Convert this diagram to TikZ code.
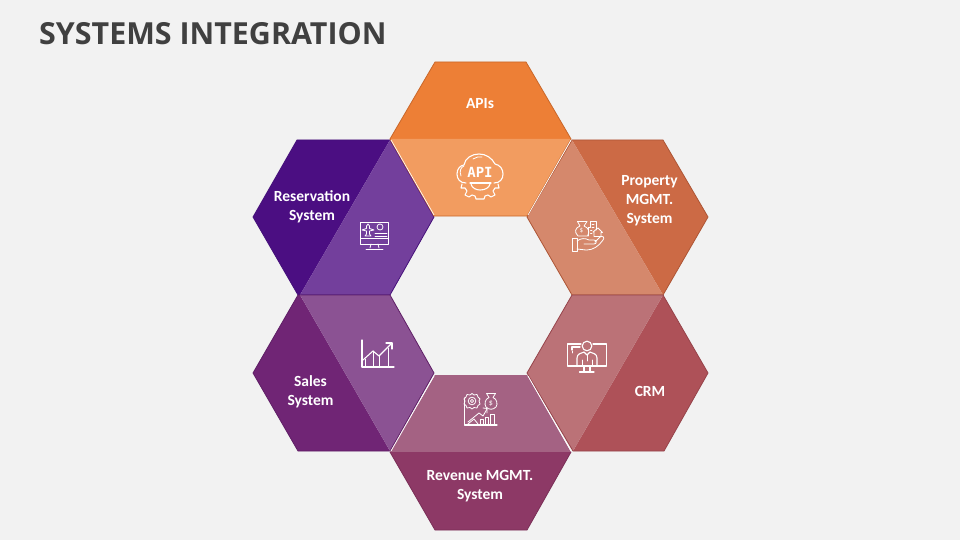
\documentclass[tikz,border=0pt]{standalone}
\usepackage{fontspec}
\setmainfont{Carlito}
\newfontfamily\titlefont{Open Sans}
\newfontfamily\apifont{DejaVu Sans Mono}
\definecolor{bgc}{HTML}{F2F2F2}
\definecolor{ttl}{HTML}{404040}
\definecolor{apid}{HTML}{ED7F36}
\definecolor{apil}{HTML}{F29C60}
\definecolor{apie}{HTML}{C9672A}
\definecolor{resd}{HTML}{4B0E82}
\definecolor{resl}{HTML}{733F9C}
\definecolor{rese}{HTML}{45107A}
\definecolor{prod}{HTML}{CC6A45}
\definecolor{prol}{HTML}{D5886C}
\definecolor{proe}{HTML}{AD5535}
\definecolor{sald}{HTML}{702575}
\definecolor{sall}{HTML}{8B5293}
\definecolor{sale}{HTML}{5F1F66}
\definecolor{crmd}{HTML}{AE5158}
\definecolor{crml}{HTML}{BB7277}
\definecolor{crme}{HTML}{96434A}
\definecolor{revd}{HTML}{8D3966}
\definecolor{revl}{HTML}{A46283}
\definecolor{reve}{HTML}{7A2F57}
\tikzset{
  x=1pt,y=-1pt,
  hexedge/.style={draw=#1,line width=0.8pt,line join=miter},
  gapline/.style={draw=white,line width=0.7pt},
  lbl/.style={text=white,font=\fontsize{15.5}{19}\selectfont\bfseries,align=center,inner sep=0pt},
  icon/.style={draw=white,line width=1.1pt,line join=round,line cap=round},
  iconthin/.style={draw=white,line width=0.8pt,line join=round,line cap=round},
}
\begin{document}
\begin{tikzpicture}
\useasboundingbox (0,0) rectangle (960,540);
\fill[bgc] (0,0) rectangle (960,540);
\node[anchor=west,inner sep=0pt,text=ttl,font=\titlefont\fontsize{30.4}{36}\selectfont\bfseries] (title) at (39,34) {SYSTEMS INTEGRATION};

% Reservation
\fill[resd] (297,140) -- (390,140) -- (300,295) -- (298,295) -- (253,217) -- cycle;
\fill[resl] (390,140) -- (434,217) -- (390,295) -- (300,295) -- cycle;
\draw[hexedge=rese] (297,140) -- (390,140) -- (434,217) -- (390,295) -- (298,295) -- (253,217) -- cycle;
% Property
\fill[prod] (572,140) -- (663,140) -- (708,217) -- (663,295) -- cycle;
\fill[prol] (572,140) -- (663,295) -- (572,295) -- (527,217) -- cycle;
\draw[hexedge=proe] (572,140) -- (663,140) -- (708,217) -- (663,295) -- (572,295) -- (527,217) -- cycle;
% Sales
\fill[sald] (298,295) -- (300,295) -- (390,451) -- (298,451) -- (253,373) -- cycle;
\fill[sall] (300,295) -- (390,295) -- (434,373) -- (390,451) -- cycle;
\draw[hexedge=sale] (298,295) -- (390,295) -- (434,373) -- (390,451) -- (298,451) -- (253,373) -- cycle;
% CRM
\fill[crmd] (663,295) -- (708,373) -- (664,451) -- (573,451) -- cycle;
\fill[crml] (572,295) -- (663,295) -- (573,451) -- (527,373) -- cycle;
\draw[hexedge=crme] (572,295) -- (663,295) -- (708,373) -- (664,451) -- (573,451) -- (527,373) -- cycle;
% APIs
\fill[apid] (435,62) -- (526,62) -- (571,139) -- (390,139) -- cycle;
\fill[apil] (390,139) -- (571,139) -- (527,216) -- (434,216) -- cycle;
\draw[hexedge=apie] (435,62) -- (526,62) -- (571,139) -- (527,216) -- (434,216) -- (390,139) -- cycle;
% Revenue
\fill[revl] (435,375) -- (527,375) -- (571,452) -- (390,452) -- cycle;
\fill[revd] (390,452) -- (571,452) -- (527,530) -- (435,530) -- cycle;
\draw[hexedge=reve] (390,452) -- (435,530) -- (527,530) -- (571,452);
% sliver highlights where the hexagons touch
\draw[gapline] (391,140) -- (434,215);
\draw[gapline] (571,140) -- (528,215);
\draw[gapline] (391,451) -- (434,376);
\draw[gapline] (571,451) -- (528,376);

% labels
\node[lbl] (lapi) at (480,104) {APIs};
\node[lbl] (lres) at (312,207) {Reservation\\System};
\node[lbl] (lpro) at (649.5,201) {Property\\MGMT.\\System};
\node[lbl] (lsal) at (310.5,392) {Sales\\System};
\node[lbl] (lcrm) at (650,391) {CRM};
\node[lbl] (lrev) at (480,486.5) {Revenue MGMT.\\System};

% icon: API cloud and gear
\draw[icon] (466,183) .. controls (460,183) and (457,179) .. (457,174) .. controls (457,169) and (460,165.5) .. (464,165) .. controls (465,158) and (472,154) .. (479,154) .. controls (486,154) and (492,158) .. (495,164) .. controls (500,165) and (503,169) .. (503,174) .. controls (503,179) and (500,183) .. (494,183);
\draw[iconthin] (461,176) .. controls (459,171) and (461,167) .. (464,166);
\draw[iconthin] (473,159) .. controls (476,157) and (479,156.5) .. (482,157);
\draw[icon] (470,183) -- (491,183);
\draw[icon] (471,184) .. controls (472,188) and (476,190) .. (480,190) .. controls (485,190) and (489,188) .. (490,184);
\draw[icon] (462,184) -- (461,188) -- (465,188) -- (467,191) -- (465,195) -- (469,197) -- (472,195) -- (475,196) -- (476,199) -- (484,199) -- (485,196) -- (488,195) -- (491,197) -- (495,195) -- (493,191) -- (495,188) -- (499,188) -- (498,184);
\node[inner sep=0pt,text=white,font=\apifont\bfseries\fontsize{14}{14}\selectfont] (apitxt) at (480,172.5) {API};

% icon: reservation monitor
\draw[iconthin] (360.5,222) rectangle (388,244);
\draw[iconthin] (360.5,238) -- (388,238);
\draw[iconthin] (371,244) -- (370,248) (378,244) -- (379,248);
\draw[iconthin] (366,249) -- (383,249);
\draw[iconthin] (368,224) -- (369.5,226) -- (369.5,228.5) -- (374,230) -- (369.5,231) -- (369.5,234) -- (371,236) -- (365,236) -- (366.5,234) -- (366.5,231) -- (362,230) -- (366.5,228.5) -- (366.5,226) -- cycle;
\draw[iconthin] (380,227) circle (3);
\draw[iconthin] (375,233) -- (387,233) (375,236) -- (387,236);

% icon: property hand
\draw[iconthin] (572.5,238.5) rectangle (577,251.5);
\draw[iconthin] (577,241) .. controls (581,238) and (585,238) .. (589,240) -- (594,240) .. controls (597,240) and (597,244) .. (594,244) -- (584,244);
\draw[iconthin] (595,242) -- (600,237) .. controls (603,235) and (605,238) .. (603,240) .. controls (599,246) and (593,250) .. (587,250) .. controls (583,250) and (580,249) .. (577,249);
\draw[iconthin] (577.5,221.5) -- (587,221.5) -- (584,226) .. controls (589,228) and (590,232) .. (587.5,236) -- (578,236) .. controls (574,232) and (575,228) .. (580,226) -- cycle;
\draw[iconthin] (588,236) -- (588,227) -- (590,227) -- (590,221) -- (596,221) -- (596,230);
\draw[iconthin] (592,224) -- (594,224) (592,227) -- (594,227) (590.5,230) -- (592,230) (590.5,233) -- (592,233);
\draw[iconthin] (593,232) -- (598,228) -- (602.5,232.5) -- (601,232.5) -- (601,236.5) -- (594,236.5) -- (594,232);
\node[inner sep=0pt,text=white,font=\fontsize{7}{7}\selectfont] (bagd) at (581.5,231) {\$};

% icon: sales chart
\draw[icon] (362,340) -- (362,367) -- (394,367);
\draw[icon] (363,360) -- (373,351) -- (379,356) -- (392,343);
\draw[icon] (386,343) -- (392,343) -- (392,349);
\draw[iconthin] (365,359) -- (365,367) (373,351) -- (373,367) (379,356) -- (379,367) (388,348) -- (388,367);

% icon: CRM screen with person
\draw[icon] (581,344) -- (567.5,344) -- (567.5,366) -- (606.5,366) -- (606.5,344) -- (593,344);
\draw[icon] (572,350) -- (572,347) -- (580,347);
\draw[iconthin] (572,353) -- (572,351);
\draw[icon] (587,346) circle (4.8);
\draw[icon] (577,366) -- (577,358) .. controls (577,354) and (581,353) .. (584,352) -- (587,355) -- (590,352) .. controls (593,353) and (597,354) .. (597,358) -- (597,366);
\draw[iconthin] (587,355) -- (587,361);
\draw[iconthin] (582,360) -- (582,366) (592,360) -- (592,366);
\draw[icon] (584,366) -- (584,372) (590,366) -- (590,372);
\draw[icon] (579.5,372) -- (594,372);

% icon: revenue
\draw[icon] (464.5,398) -- (464.5,425) -- (497,425);
\draw[iconthin] (472,393.5) -- (474,395) -- (477,394.5) -- (478,397) -- (480,399) -- (479,401) -- (480,404) -- (478,405.5) -- (477,408) -- (474,407.5) -- (472,409) -- (470,407.5) -- (467,408) -- (466,405.5) -- (464,404) -- (465,401) -- (464,399) -- (466,397) -- (467,394.5) -- (470,395) -- cycle;
\draw[iconthin] (472,401) circle (3.8);
\draw[iconthin] (472,401) circle (1.6);
\draw[iconthin] (486.5,393.5) -- (495.5,393.5) -- (493,397.5) .. controls (497,399) and (498,404) .. (496,407) .. controls (493,410) and (489,410) .. (486,407) .. controls (484,404) and (485,399) .. (489,397.5) -- cycle;
\node[inner sep=0pt,text=white,font=\fontsize{8}{8}\selectfont] (revdollar) at (491,403.5) {\$};
\draw[iconthin] (468,422) -- (479,413) -- (483,416) -- (487,409);
\draw[iconthin] (483,408) -- (487,408.5) -- (487,413);
\draw[iconthin] (468,424) -- (474,419) -- (478,424);
\draw[iconthin] (480,424) -- (480,419) -- (483,419) -- (483,424) (485,424) -- (485,417) -- (488,417) -- (488,424) (490,424) -- (490,414) -- (494,414) -- (494,424);
\end{tikzpicture}
\end{document}
